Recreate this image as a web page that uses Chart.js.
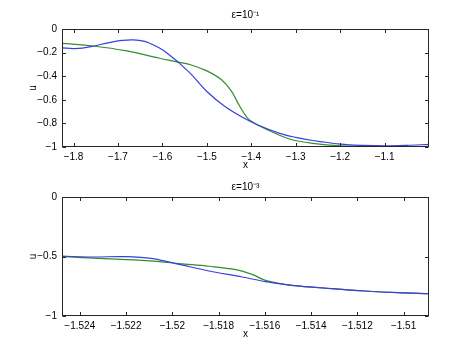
<!DOCTYPE html>
<html>
<head>
<meta charset="utf-8">
<script src="https://cdn.jsdelivr.net/npm/chart.js@4.4.0/dist/chart.umd.min.js"></script>
<style>
  body { margin: 0; background: #fff; }
  .panel { width: 474px; position: relative; }
  canvas { display: block; }
</style>
</head>
<body>
<div class="panel"><canvas id="topChart" width="474" height="177"></canvas></div>
<div class="panel"><canvas id="bottomChart" width="474" height="178"></canvas></div>
<script>
// eps = 1e-1 panel
const topBlueX = [-1.826, -1.80, -1.78, -1.756, -1.72, -1.69, -1.666, -1.64, -1.62, -1.60, -1.585, -1.565, -1.535, -1.50, -1.46, -1.42, -1.385, -1.336, -1.30, -1.262, -1.20, -1.15, -1.10, -1.05, -1.00];
const topBlueY = [-0.160, -0.166, -0.162, -0.146, -0.116, -0.097, -0.092, -0.105, -0.135, -0.175, -0.218, -0.280, -0.385, -0.530, -0.655, -0.748, -0.814, -0.884, -0.918, -0.945, -0.975, -0.986, -0.990, -0.986, -0.978];
const topGreenX = [-1.826, -1.756, -1.68, -1.606, -1.565, -1.535, -1.50, -1.467, -1.445, -1.426, -1.408, -1.39, -1.357, -1.314, -1.262, -1.20, -1.10, -1.00];
const topGreenY = [-0.121, -0.144, -0.186, -0.248, -0.280, -0.305, -0.355, -0.430, -0.525, -0.655, -0.757, -0.805, -0.865, -0.932, -0.969, -0.990, -0.996, -0.996];
const topXTicks = [-1.8, -1.7, -1.6, -1.5, -1.4, -1.3, -1.2, -1.1];
const topYTicks = [0, -0.2, -0.4, -0.6, -0.8, -1];

// eps = 1e-3 panel
const botBlueX = [-1.52477, -1.52343, -1.52199, -1.52085, -1.5197, -1.51841, -1.51698, -1.51597, -1.51483, -1.5131, -1.51167, -1.51024, -1.5089];
const botBlueY = [-0.497, -0.504, -0.501, -0.518, -0.566, -0.622, -0.672, -0.711, -0.742, -0.770, -0.790, -0.804, -0.812];
const botGreenX = [-1.52477, -1.52343, -1.52199, -1.52056, -1.5197, -1.51841, -1.51726, -1.51655, -1.51597, -1.51483, -1.5131, -1.51167, -1.51024, -1.5089];
const botGreenY = [-0.500, -0.513, -0.526, -0.543, -0.560, -0.582, -0.610, -0.650, -0.700, -0.742, -0.770, -0.790, -0.804, -0.812];
const botXTicks = [-1.524, -1.522, -1.52, -1.518, -1.516, -1.514, -1.512, -1.51];
const botYTicks = [0, -0.5, -1];

const BLUE = '#3c3ce0';
const GREEN = '#2f8f2f';
const FONT = { family: '"Liberation Sans", Arial, sans-serif', size: 10 };

function fmt(v) {
    const s = parseFloat(Math.abs(v).toFixed(4)).toString();
    return v < 0 ? '\u2212' + s : s;
}

function pts(xs, ys) {
    return xs.map((x, i) => ({ x: x, y: ys[i] }));
}

// box around the plot plus inward ticks on all four sides
const boxTicks = {
    id: 'boxTicks',
    afterDraw(chart) {
        const ctx = chart.ctx;
        const a = chart.chartArea;
        const l = Math.round(a.left) + 0.5, r = Math.round(a.right) - 0.5;
        const t = Math.round(a.top) + 0.5, b = Math.round(a.bottom) - 0.5;
        const len = 3.5;
        ctx.save();
        ctx.strokeStyle = '#262626';
        ctx.lineWidth = 1;
        ctx.beginPath();
        chart.scales.x.ticks.forEach(tk => {
            const px = Math.round(chart.scales.x.getPixelForValue(tk.value)) + 0.5;
            ctx.moveTo(px, b); ctx.lineTo(px, b - len);
            ctx.moveTo(px, t); ctx.lineTo(px, t + len);
        });
        chart.scales.y.ticks.forEach(tk => {
            const py = Math.round(chart.scales.y.getPixelForValue(tk.value)) + 0.5;
            ctx.moveTo(l, py); ctx.lineTo(l + len, py);
            ctx.moveTo(r, py); ctx.lineTo(r - len, py);
        });
        ctx.stroke();
        ctx.strokeRect(l, t, r - l, b - t);
        ctx.restore();
    }
};

function makeChart(id, cfg) {
    return new Chart(document.getElementById(id).getContext('2d'), {
        type: 'scatter',
        data: {
            datasets: [
                { data: pts(cfg.bx, cfg.by), borderColor: BLUE, showLine: true, pointRadius: 0, borderWidth: 1.2, tension: 0.35 },
                { data: pts(cfg.gx, cfg.gy), borderColor: GREEN, showLine: true, pointRadius: 0, borderWidth: 1.2, tension: 0.35 }
            ]
        },
        options: {
            responsive: false,
            animation: false,
            devicePixelRatio: 1,
            layout: { padding: { left: 0, right: 45, top: 0, bottom: 0 } },
            plugins: {
                legend: { display: false },
                tooltip: { enabled: false },
                title: {
                    display: true, text: cfg.title, fullSize: false, color: '#000',
                    font: { family: FONT.family, size: 10, weight: 'normal' },
                    padding: cfg.titlePad
                }
            },
            scales: {
                x: {
                    type: 'linear', min: cfg.xmin, max: cfg.xmax,
                    afterBuildTicks: s => { s.ticks = cfg.xticks.map(v => ({ value: v })); },
                    afterFit: s => { s.height = cfg.xh; },
                    grid: { display: false, drawTicks: false },
                    border: { display: false },
                    ticks: { color: '#000', font: FONT, padding: 4, maxRotation: 0, autoSkip: false, callback: fmt },
                    title: { display: true, text: 'x', color: '#000', font: FONT, padding: { top: 0, bottom: cfg.xtPad } }
                },
                y: {
                    type: 'linear', min: -1, max: 0,
                    afterBuildTicks: s => { s.ticks = cfg.yticks.map(v => ({ value: v })); },
                    afterFit: s => { s.width = 62; },
                    grid: { display: false, drawTicks: false },
                    border: { display: false },
                    ticks: { color: '#000', font: FONT, padding: 5, autoSkip: false, callback: fmt },
                    title: { display: true, text: 'u', color: '#000', font: FONT, padding: { top: 27, bottom: 0 } }
                }
            }
        },
        plugins: [boxTicks]
    });
}

makeChart('topChart', {
    bx: topBlueX, by: topBlueY, gx: topGreenX, gy: topGreenY,
    xmin: -1.826, xmax: -1.0, xticks: topXTicks, yticks: topYTicks,
    title: '\u03b5=10\u207b\u00b9', titlePad: { top: 9, bottom: 8 }, xh: 30, xtPad: 6
});

makeChart('bottomChart', {
    bx: botBlueX, by: botBlueY, gx: botGreenX, gy: botGreenY,
    xmin: -1.52477, xmax: -1.5089, xticks: botXTicks, yticks: botYTicks,
    title: '\u03b5=10\u207b\u00b3', titlePad: { top: 4, bottom: 4 }, xh: 39, xtPad: 15
});
</script>
</body>
</html>
